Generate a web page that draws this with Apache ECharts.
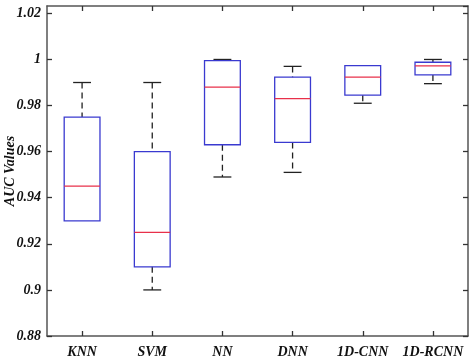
<!DOCTYPE html>
<html>
<head>
<meta charset="utf-8">
<script src="https://cdn.jsdelivr.net/npm/echarts@6/dist/echarts.min.js"></script>
<style>html,body{margin:0;padding:0;background:#fff;}#c{width:474px;height:362px;}</style>
</head>
<body>
<div id="c"></div>
<script>
const categories = ['KNN', 'SVM', 'NN', 'DNN', '1D-CNN', '1D-RCNN'];
const mins    = [0.930, 0.900, 0.949, 0.951, 0.981, 0.9895];
const q1s     = [0.930, 0.910, 0.963, 0.964, 0.9845, 0.9933];
const medians = [0.945, 0.925, 0.988, 0.983, 0.9923, 0.9972];
const q3s     = [0.975, 0.960, 0.9995, 0.9923, 0.9973, 0.9988];
const maxs    = [0.990, 0.990, 1.000, 0.997, 0.9973, 1.000];
const yTicks = [0.88, 0.9, 0.92, 0.94, 0.96, 0.98, 1, 1.02];

const data = categories.map((c, i) => [i, mins[i], q1s[i], medians[i], q3s[i], maxs[i]]);

const fontBase = {fontFamily: 'Liberation Serif', fontWeight: 'bold', fontStyle: 'italic', fontSize: 14, color: '#111'};
const axisColor = '#555';
const tickStyle = {show: true, inside: true, length: 5, lineStyle: {color: '#333', width: 1.3}};

function renderItem(params, api) {
  const x = api.value(0);
  const pMin = api.coord([x, api.value(1)]);
  const pQ1 = api.coord([x, api.value(2)]);
  const pMed = api.coord([x, api.value(3)]);
  const pQ3 = api.coord([x, api.value(4)]);
  const pMax = api.coord([x, api.value(5)]);
  const band = api.size([1, 0])[0];
  const bw = band * 0.51;
  const cw = bw * 0.5;
  const cx = pMed[0];
  const children = [];
  const dash = {stroke: '#222', lineWidth: 1.3, lineDash: [6, 4]};
  const cap = {stroke: '#222', lineWidth: 1.3};
  if (Math.abs(pMax[1] - pQ3[1]) > 0.5) {
    children.push({type: 'line', shape: {x1: cx, y1: pMax[1], x2: cx, y2: pQ3[1]}, style: dash});
    children.push({type: 'line', shape: {x1: cx - cw / 2, y1: pMax[1], x2: cx + cw / 2, y2: pMax[1]}, style: cap});
  }
  if (Math.abs(pMin[1] - pQ1[1]) > 0.5) {
    children.push({type: 'line', shape: {x1: cx, y1: pQ1[1], x2: cx, y2: pMin[1]}, style: dash});
    children.push({type: 'line', shape: {x1: cx - cw / 2, y1: pMin[1], x2: cx + cw / 2, y2: pMin[1]}, style: cap});
  }
  children.push({type: 'rect', shape: {x: cx - bw / 2, y: pQ3[1], width: bw, height: pQ1[1] - pQ3[1]},
    style: {fill: 'none', stroke: '#3a3ad0', lineWidth: 1.3}});
  children.push({type: 'line', shape: {x1: cx - bw / 2, y1: pMed[1], x2: cx + bw / 2, y2: pMed[1]},
    style: {stroke: '#e8304a', lineWidth: 1.3}});
  return {type: 'group', children: children};
}

const chart = echarts.init(document.getElementById('c'));
chart.setOption({
  animation: false,
  backgroundColor: '#fff',
  grid: {left: 47, top: 6, right: 6, bottom: 26, show: false, containLabel: false, outerBoundsMode: 'none'},
  xAxis: [
    {type: 'category', data: categories, position: 'bottom',
     axisLine: {show: true, lineStyle: {color: axisColor, width: 1.5}},
     axisTick: Object.assign({alignWithLabel: true, interval: 0}, tickStyle),
     axisLabel: Object.assign({margin: 9, interval: 0, hideOverlap: false}, fontBase),
     splitLine: {show: false}},
    {type: 'category', data: categories, position: 'top',
     axisLine: {show: true, lineStyle: {color: axisColor, width: 1.5}},
     axisTick: Object.assign({alignWithLabel: true, interval: 0}, tickStyle),
     axisLabel: {show: false}, splitLine: {show: false}}
  ],
  yAxis: [
    {type: 'value', min: 0.88, max: 1.0232, interval: 0.02, position: 'left',
     name: 'AUC Values', nameLocation: 'middle', nameGap: 30, nameMoveOverlap: false,
     nameTextStyle: Object.assign({}, fontBase, {fontSize: 14}),
     axisLine: {show: true, lineStyle: {color: axisColor, width: 1.5}},
     axisTick: tickStyle,
     axisLabel: Object.assign({margin: 6, showMaxLabel: false,
       formatter: v => yTicks.some(t => Math.abs(t - v) < 1e-6) ? String(+v.toFixed(2)) : ''}, fontBase),
     splitLine: {show: false}},
    {type: 'value', min: 0.88, max: 1.0232, interval: 0.02, position: 'right',
     axisLine: {show: true, lineStyle: {color: axisColor, width: 1.5}},
     axisTick: tickStyle,
     axisLabel: {show: false}, splitLine: {show: false}}
  ],
  series: [{
    type: 'custom',
    xAxisIndex: 0, yAxisIndex: 0,
    renderItem: renderItem,
    encode: {x: 0, y: [1, 2, 3, 4, 5]},
    data: data
  }]
});
</script>
</body>
</html>
